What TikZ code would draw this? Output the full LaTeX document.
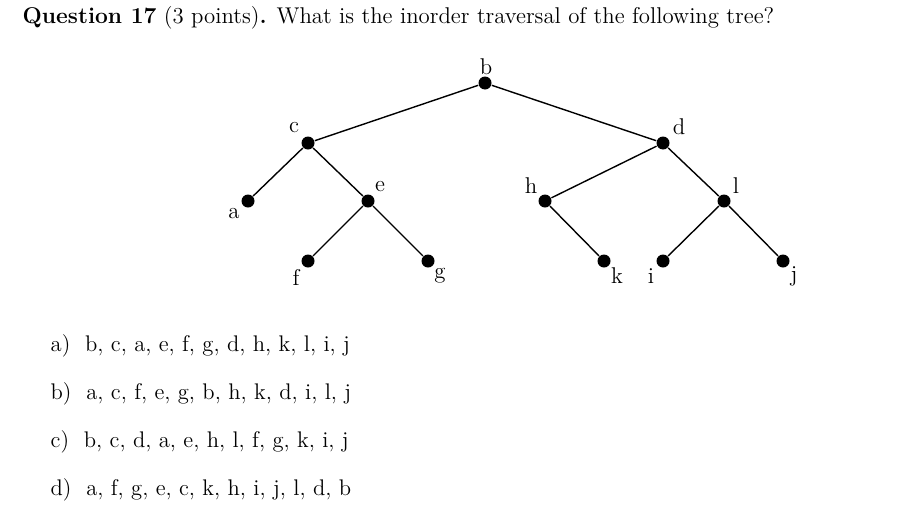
\documentclass[tikz,border=0pt]{standalone}
\begin{document}
\begin{tikzpicture}[x=0.5pt,y=-0.5pt,line width=0.7pt,
  dot/.style={circle,fill=black,inner sep=0pt,minimum size=6.5pt},
  lab/.style={inner sep=0pt,font=\fontsize{11.4}{13}\selectfont}]
\useasboundingbox (0,0) rectangle (921,525);
\node[anchor=west,inner sep=0pt,font=\fontsize{11.4}{13}\selectfont] (q) at (22,18) {\textbf{Question 17} (3 points)\textbf{.} What is the inorder traversal of the following tree?};
\foreach \n/\x/\y in {b/485/83,c/308/143,d/663/143,a/248/201,e/368/201,h/545/201,l/724/201,f/308/261,g/428/261,k/604/261,i/663/261,j/783/261}
  \node[dot] (\n) at (\x,\y) {};
\draw (b)--(c) (b)--(d) (c)--(a) (c)--(e) (e)--(f) (e)--(g) (d)--(h) (d)--(l) (h)--(k) (l)--(i) (l)--(j);
\node[lab] (lb) at (486,67) {b};
\node[lab] (lc) at (294,128) {c};
\node[lab] (ld) at (679,127) {d};
\node[lab] (la) at (234,214) {a};
\node[lab] (le) at (380,187) {e};
\node[lab] (lh) at (531,186) {h};
\node[lab] (ll) at (736,186) {l};
\node[lab] (lf) at (296,277) {f};
\node[lab] (lg) at (440,276) {g};
\node[lab] (lk) at (617,276) {k};
\node[lab] (li) at (651,276) {i};
\node[lab] (lj) at (794,276) {j};
\begin{scope}[every node/.style={anchor=west,inner sep=0pt,font=\fontsize{11.3}{13}\selectfont}]
\node (o1) at (50,346) {a)\ \ b, c, a, e, f, g, d, h, k, l, i, j};
\node (o2) at (50,394) {b)\ \ a, c, f, e, g, b, h, k, d, i, l, j};
\node (o3) at (50,442) {c)\ \ b, c, d, a, e, h, l, f, g, k, i, j};
\node (o4) at (50,490) {d)\ \ a, f, g, e, c, k, h, i, j, l, d, b};
\end{scope}
\end{tikzpicture}
\end{document}
